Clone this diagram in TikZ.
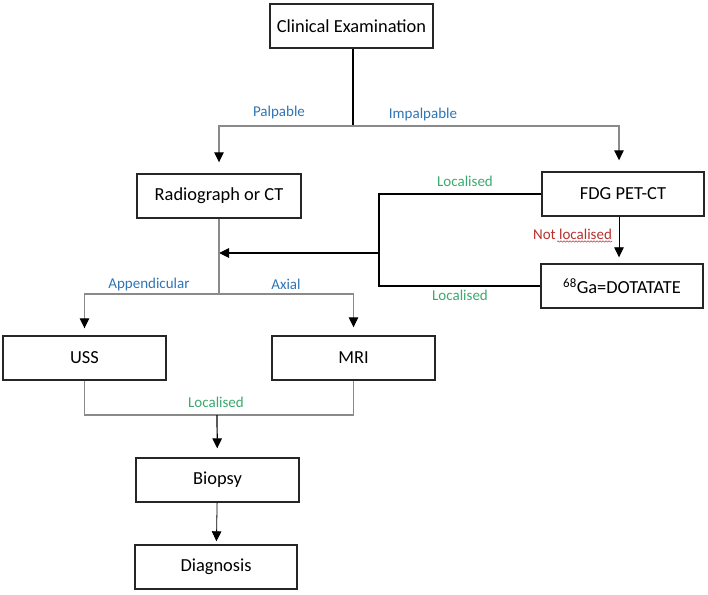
\documentclass[tikz,border=0pt]{standalone}
\usepackage{fontspec}
\setmainfont{Carlito}
\usetikzlibrary{arrows.meta,calc,decorations.pathmorphing}
\definecolor{boxc}{HTML}{262626}
\definecolor{linegray}{HTML}{8A8A8A}
\definecolor{lblblue}{HTML}{2E75B6}
\definecolor{lblgreen}{HTML}{3BAA6E}
\definecolor{lblred}{HTML}{B8312F}
\begin{document}
\begin{tikzpicture}[x=1pt,y=-1pt,
  box/.style={draw=boxc, line width=1.4pt, minimum width=163pt, minimum height=44pt, inner sep=0pt, font=\fontsize{18.4}{21}\selectfont},
  conn/.style={line width=1.2pt, black},
  thinconn/.style={line width=0.8pt, black},
  gconn/.style={line width=1.2pt, linegray},
  tip/.style={-{Triangle[width=9.5pt,length=10pt,color=black]}},
  lbl/.style={font=\fontsize{15}{17}\selectfont, inner sep=0pt},
  blbl/.style={lbl, text=lblblue},
  glbl/.style={lbl, text=lblgreen},
  rlbl/.style={lbl, text=lblred}]
\fill[white] (0,0) rectangle (708,594);
\useasboundingbox (0,0) rectangle (708,594);

% boxes
\node[box] (clin) at (351.5,26) {Clinical Examination};
\node[box, minimum width=164pt] (rad) at (219,196) {Radiograph or CT};
\node[box, minimum width=162pt] (fdg) at (623,194) {FDG PET-CT};
\node[box, minimum width=162pt] (ga) at (622,286) {\textsuperscript{68}Ga=DOTATATE};
\node[box] (uss) at (84.5,358) {USS};
\node[box] (mri) at (353.5,358) {MRI};
\node[box] (bio) at (217.5,480) {Biopsy};
\node[box, minimum width=162pt] (diag) at (216,567) {Diagnosis};

% junctions
\coordinate (j1) at (353,126);
\coordinate (j2) at (379,253);
\coordinate (j3) at (219,294);
\coordinate (j4) at (217,415);

% clinical examination split
\draw[conn] (clin.south -| j1) -- (j1);
\draw[gconn, tip, shorten >=11pt] (j1) -| (rad);
\draw[gconn, tip, shorten >=11pt] (j1) -| ($(fdg.north)+(-4,0)$);

% FDG / Ga localised back to radiograph
\draw[conn] (fdg.west) -| (j2) |- (ga.west);
\draw[conn, tip] (j2) -- (rad.south |- j2);
\draw[thinconn, tip, shorten >=6pt] ($(fdg.south)+(-4,0)$) -- ($(ga.north)+(-3,0)$);

% radiograph split
\draw[gconn, tip, shorten >=7pt] (rad) -- (j3) -| (uss);
\draw[gconn, tip, shorten >=8pt] (j3) -| (mri);

% USS / MRI to biopsy
\draw[gconn] (uss) |- (j4) -| (mri);
\draw[conn, tip, shorten >=9pt] (j4) -- (bio);
\draw[thinconn, tip, shorten >=3pt] (bio) -- (diag);

% labels
\node[blbl] (lpal) at (279,112) {Palpable};
\node[blbl] (limp) at (423,114) {Impalpable};
\node[glbl] (lloc1) at (465,181) {Localised};
\node[rlbl] (lnot) at (572.5,234) {Not localised};
\node[glbl] (lloc2) at (460,295) {Localised};
\node[blbl] (lapp) at (149,284) {Appendicular};
\node[blbl] (lax) at (286,284) {Axial};
\node[glbl] (lloc3) at (216,402) {Localised};
\draw[lblred, line width=0.5pt, decorate, decoration={snake, amplitude=0.7pt, segment length=3pt}]
  ($(lnot.south east)+(-55,2)$) -- ($(lnot.south east)+(0,2)$);
\end{tikzpicture}
\end{document}
